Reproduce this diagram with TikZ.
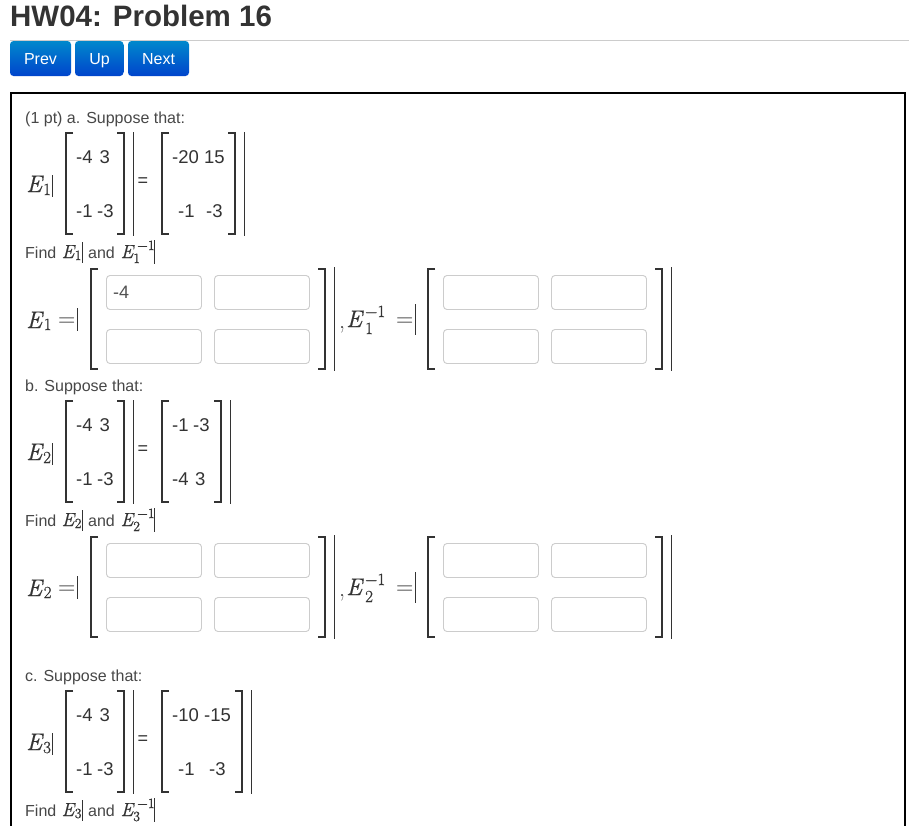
\documentclass[tikz,border=0pt]{standalone}
\usepackage{fontspec}
\setmainfont{Liberation Sans}
\newfontfamily\lmr{Latin Modern Roman}
\newfontfamily\lmb[FakeBold=0.6]{Latin Modern Roman}
\usetikzlibrary{calc}
\definecolor{txt}{HTML}{333333}
\definecolor{btop}{HTML}{0088CC}
\definecolor{bbot}{HTML}{0044CC}
\definecolor{inb}{HTML}{CCCCCC}
\tikzset{
  tx/.style={inner sep=0pt,text=txt!90,font=\fontsize{16}{16}\selectfont,anchor=base west},
  ent/.style={inner sep=0pt,text=txt,font=\fontsize{18.5}{18.5}\selectfont,anchor=base west},
  mth/.style={inner sep=0pt,text=txt,anchor=base west,font=\fontsize{24}{24}\selectfont\lmb\itshape},
  mthrm/.style={inner sep=0pt,text=txt,anchor=base west,font=\fontsize{24}{24}\selectfont\lmr},
  mss/.style={inner sep=0pt,text=txt,anchor=base west,font=\fontsize{17}{17}\selectfont\lmb},
  sm/.style={inner sep=0pt,text=txt,anchor=base west,font=\fontsize{19}{19}\selectfont\lmb\itshape},
  smss/.style={inner sep=0pt,text=txt,anchor=base west,font=\fontsize{14}{14}\selectfont\lmb},
  btn/.style={rounded corners=3.5pt,top color=btop,bottom color=bbot,draw=none},
  btx/.style={inner sep=0pt,text=white,font=\fontsize{16}{16}\selectfont,anchor=base},
  inbox/.style={draw=inb,line width=0.9pt,rounded corners=3.5pt,fill=white},
  brk/.style={draw=txt,line width=2.3pt},
  bar/.style={draw=txt,line width=0.8pt},
}
\newcommand{\lbr}[3]{\draw[brk] (#1+8,#2+1) -- (#1+1,#2+1) -- (#1+1,#3-1) -- (#1+8,#3-1);}
\newcommand{\rbr}[3]{\draw[brk] (#1,#2+1) -- (#1+7,#2+1) -- (#1+7,#3-1) -- (#1,#3-1);}
\newcommand{\vbar}[3]{\draw[bar] (#1,#2) -- (#1,#3);}
\newcommand{\matrixeq}[8]{% #1 top y, #2 sub, #3 right bracket x, #4 final bar x, #5-#8 entries
  \node[mth] at (26,#1+60) {E};
  \node[mss] at (43,#1+63) {#2};
  \vbar{52}{#1+43}{#1+65}
  \lbr{65}{#1}{#1+103}
  \node[ent] at (76,#1+31) {-4};
  \node[ent] at (99.5,#1+31) {3};
  \node[ent] at (76,#1+85) {-1};
  \node[ent] at (97,#1+85) {-3};
  \rbr{117}{#1}{#1+103}
  \vbar{133}{#1}{#1+104}
  \node[ent,anchor=center,font=\fontsize{18}{18}\selectfont] at (143,#1+50) {=};
  \lbr{161}{#1}{#1+103}
  #5 #6 #7 #8
  \rbr{#3}{#1}{#1+103}
  \vbar{#4}{#1}{#1+104}
}
\newcommand{\findline}[2]{% #1 baseline, #2 sub
  \node[tx] at (25,#1) {Find};
  \node[sm] at (61.5,#1) {E};
  \node[smss] at (74.5,#1+2) {#2};
  \vbar{82}{#1-16}{#1+5}
  \node[tx] at (88,#1) {and};
  \node[sm] at (120.5,#1) {E};
  \node[smss] at (133,#1+5) {#2};
  \node[smss] at (137,#1-8) {−1};
  \vbar{154}{#1-18}{#1+6}
}
\newcommand{\inputs}[2]{% #1 top y, #2 sub
  \node[mth] at (26,#1+60) {E};
  \node[mss] at (43.5,#1+62) {#2};
  \node[mthrm] at (58,#1+58) {=};
  \vbar{77}{#1+40}{#1+63}
  \lbr{90}{#1}{#1+102}
  \draw[inbox] (106.5,#1+7.5) rectangle (201.5,#1+41.5);
  \draw[inbox] (214.5,#1+7.5) rectangle (309.5,#1+41.5);
  \draw[inbox] (106.5,#1+61.5) rectangle (201.5,#1+95.5);
  \draw[inbox] (214.5,#1+61.5) rectangle (309.5,#1+95.5);
  \rbr{318}{#1}{#1+102}
  \vbar{334}{#1-1}{#1+103}
  \node[mthrm] at (339,#1+60) {,};
  \node[mth] at (346,#1+59) {E};
  \node[mss] at (365,#1+66) {#2};
  \node[mss] at (365,#1+49) {−1};
  \node[mthrm] at (396,#1+58) {=};
  \vbar{415}{#1+36}{#1+67}
  \lbr{427}{#1}{#1+102}
  \draw[inbox] (443.5,#1+7.5) rectangle (538.5,#1+41.5);
  \draw[inbox] (551.5,#1+7.5) rectangle (646.5,#1+41.5);
  \draw[inbox] (443.5,#1+61.5) rectangle (538.5,#1+95.5);
  \draw[inbox] (551.5,#1+61.5) rectangle (646.5,#1+95.5);
  \rbr{655}{#1}{#1+102}
  \vbar{671}{#1-1}{#1+103}
}
\begin{document}
\begin{tikzpicture}[x=1pt,y=-1pt]
\useasboundingbox (0,0) rectangle (909,825);
\fill[white] (0,0) rectangle (909,825);
\node[inner sep=0pt,text=txt,anchor=base west,font=\fontsize{29.5}{30}\selectfont\bfseries] (title) at (10,26.5) {HW04: Problem 16};
\draw[inb,line width=1pt] (10,40.5) -- (909,40.5);
\shade[btn] (10,41) rectangle (71,76);
\shade[btn] (75,41) rectangle (123.5,76);
\shade[btn] (128,41) rectangle (189,76);
\node[btx] (prev) at (40.5,64) {Prev};
\node[btx] (up) at (99.5,64) {Up};
\node[btx] (next) at (158.5,64) {Next};
\draw[black,line width=2pt] (11,830) -- (11,93) -- (905,93) -- (905,830);
% part a
\node[tx] (pa) at (25,123.5) {(1 pt) a. Suppose that:};
\matrixeq{132}{1}{228}{244}
  {\node[ent] at (172,163) {-20};}
  {\node[ent] at (204,163) {15};}
  {\node[ent] at (178,217) {-1};}
  {\node[ent] at (206,217) {-3};}
\findline{258}{1}
\inputs{268}{1}
\node[inner sep=0pt,text=txt!85,font=\fontsize{18}{18}\selectfont,anchor=base west] (v) at (113,298) {-4};
% part b
\node[tx] (pb) at (25,391.5) {b. Suppose that:};
\matrixeq{400}{2}{214}{230}
  {\node[ent] at (172,431) {-1};}
  {\node[ent] at (193,431) {-3};}
  {\node[ent] at (172,485) {-4};}
  {\node[ent] at (195,485) {3};}
\findline{526}{2}
\inputs{536}{2}
% part c
\node[tx] (pc) at (25,681.5) {c. Suppose that:};
\matrixeq{690}{3}{235}{251}
  {\node[ent] at (172,721) {-10};}
  {\node[ent] at (204,721) {-15};}
  {\node[ent] at (178,775) {-1};}
  {\node[ent] at (209,775) {-3};}
\findline{816}{3}
\end{tikzpicture}
\end{document}
